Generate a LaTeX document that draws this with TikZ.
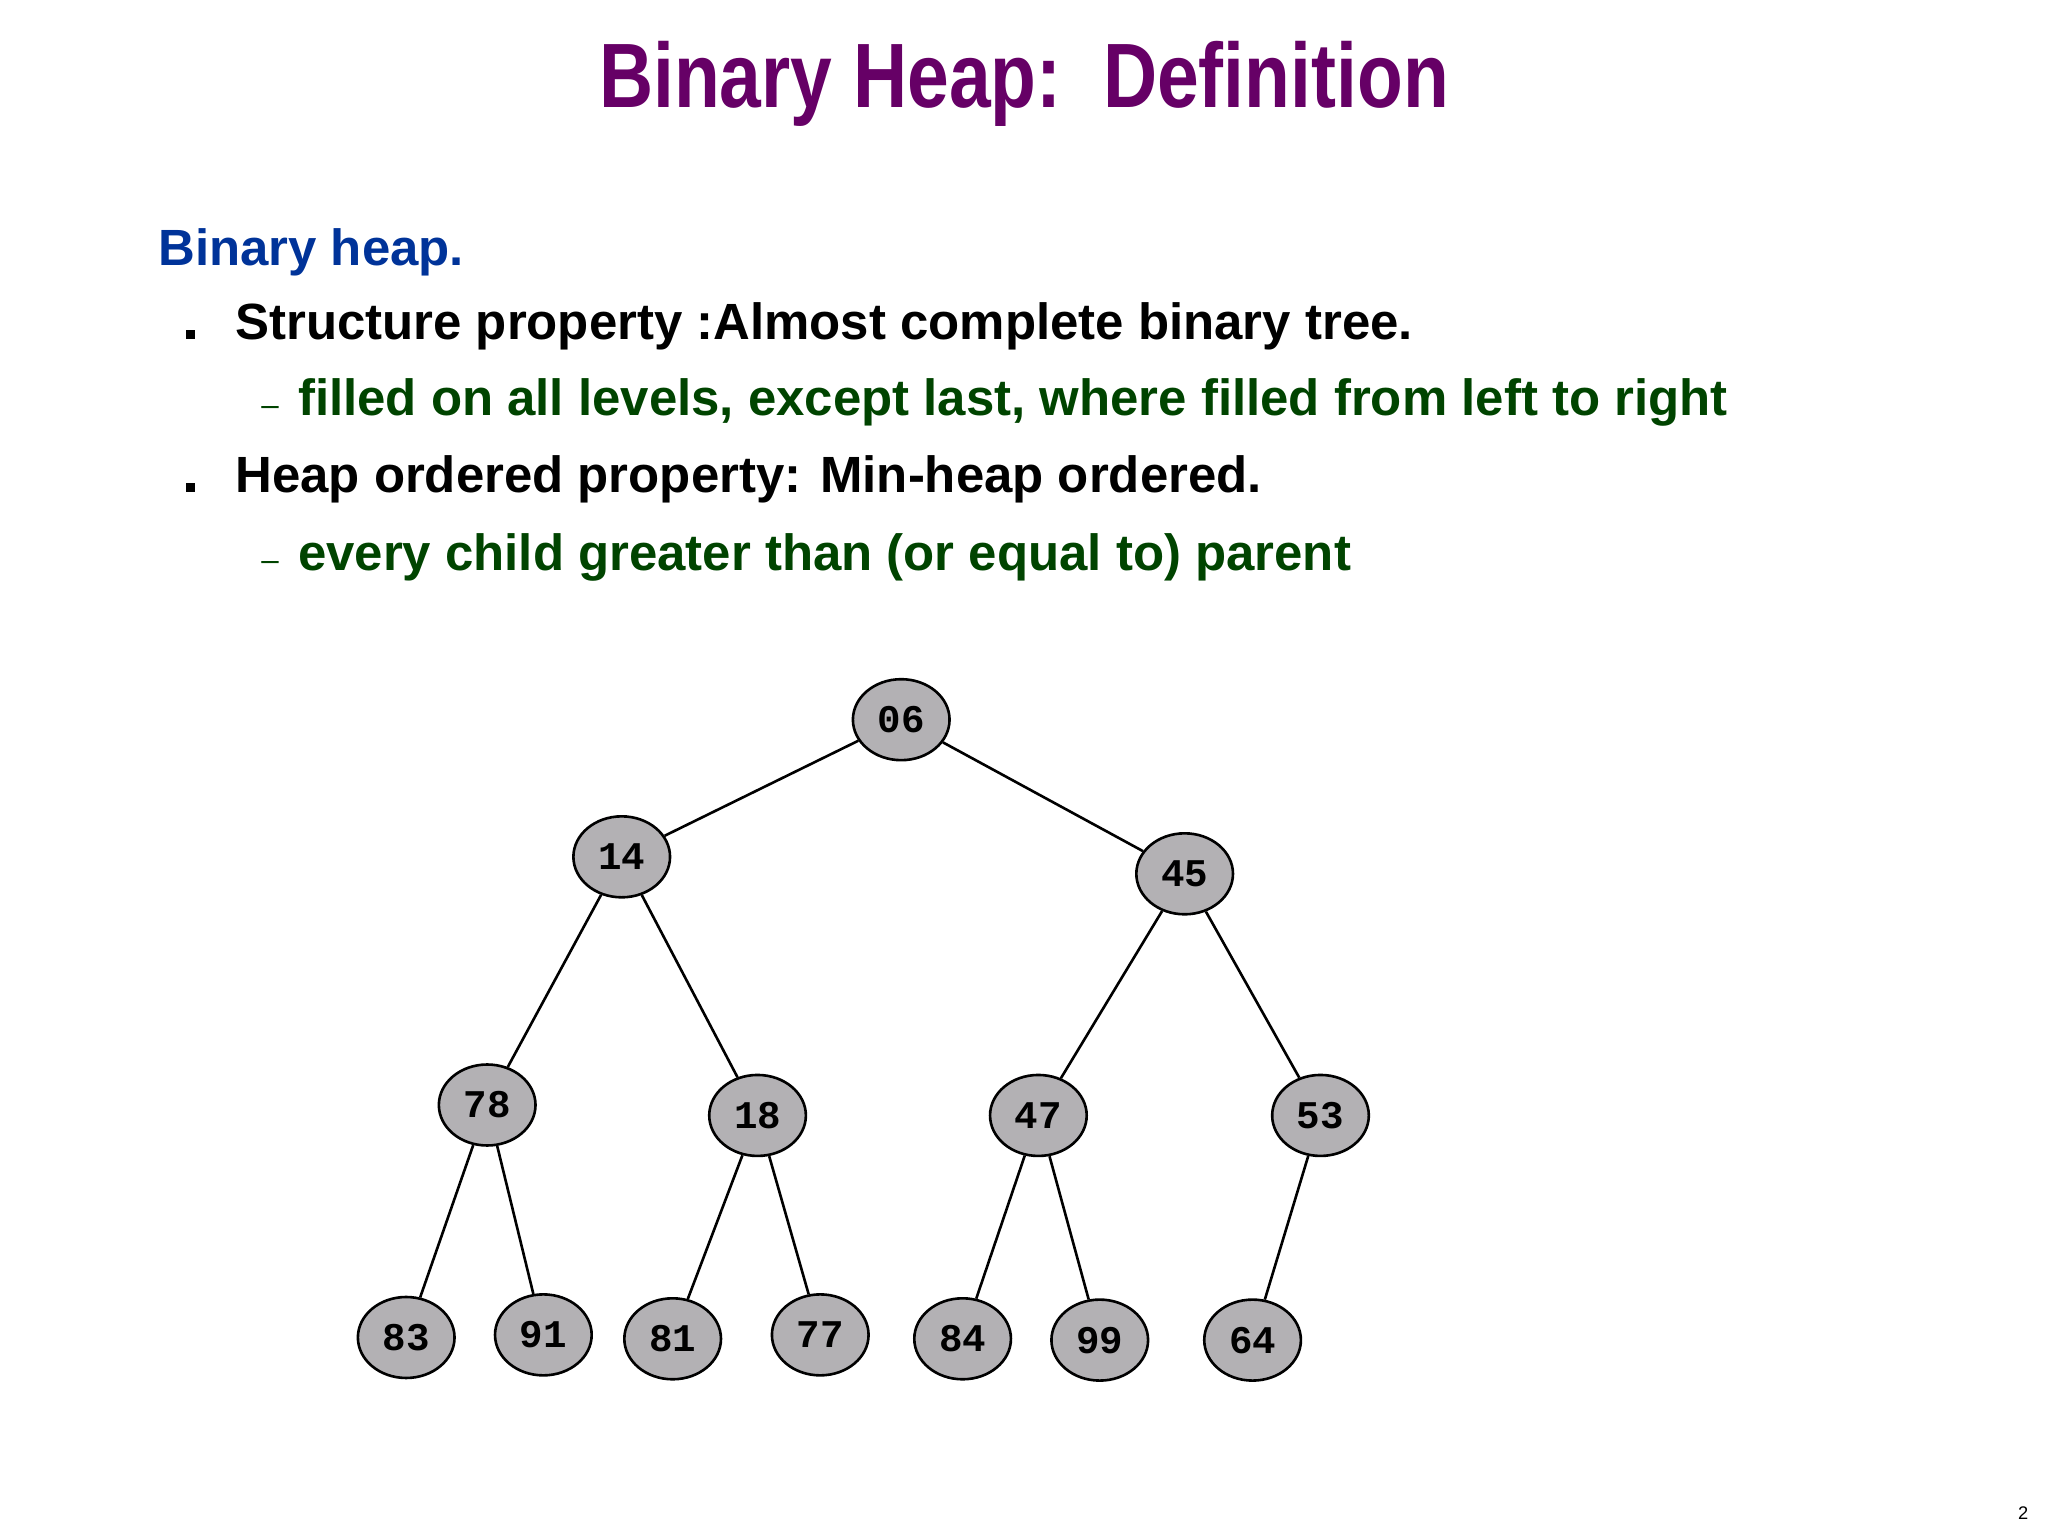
\documentclass[tikz,border=0pt]{standalone}
\usepackage{fontspec}
\setmainfont{Liberation Sans}
\setmonofont{Liberation Mono}
\usetikzlibrary{shapes.geometric}
\definecolor{ttl}{HTML}{660066}
\definecolor{blu}{HTML}{003399}
\definecolor{grn}{HTML}{004400}
\definecolor{nfill}{HTML}{B3B1B4}
\begin{document}
\begin{tikzpicture}[x=1pt,y=-1pt,
  hn/.style={ellipse,draw,line width=2pt,fill=nfill,minimum width=74pt,minimum height=62pt,inner sep=0pt,font=\fontsize{30}{30}\selectfont\ttfamily\bfseries},
  ed/.style={line width=2pt},
  txt/.style={anchor=base west,inner sep=0pt,font=\fontsize{39}{39}\selectfont\bfseries},
  dsh/.style={anchor=base west,inner sep=0pt,text=grn,font=\fontsize{24}{24}\selectfont}]
\useasboundingbox (0,0) rectangle (1568,1176);
\node[anchor=base,inner sep=0pt,text=ttl,xscale=0.82,font=\fontsize{70}{70}\selectfont\bfseries] (title) at (784,82) {Binary Heap:\ \ Definition};
\node[txt,text=blu] (h) at (121,203) {Binary heap.};
\node[anchor=center,fill=black,minimum size=7pt,inner sep=0pt] (b1) at (146,256) {};
\node[txt] (l1) at (180,260) {Structure property :Almost complete binary tree.};
\node[dsh] (d1) at (200,318) {–};
\node[txt,text=grn] (l2) at (228,318) {filled on all levels, except last, where filled from left to right};
\node[anchor=center,fill=black,minimum size=7pt,inner sep=0pt] (b2) at (146,373) {};
\node[txt] (l3) at (180,377) {Heap ordered property: Min-heap ordered.};
\node[dsh] (d2) at (200,437) {–};
\node[txt,text=grn] (l4) at (228,437) {every child greater than (or equal to) parent};
\node[anchor=base east,inner sep=0pt,font=\fontsize{14}{14}\selectfont] (pg) at (1553,1163) {2};
\node[hn] (n06) at (690,551) {06};
\node[hn] (n14) at (476,656) {14};
\node[hn] (n45) at (907,669) {45};
\node[hn] (n78) at (373,846) {78};
\node[hn] (n18) at (580,854) {18};
\node[hn] (n47) at (795,854) {47};
\node[hn] (n53) at (1011,854) {53};
\node[hn] (n83) at (311,1024) {83};
\node[hn] (n91) at (416,1022) {91};
\node[hn] (n81) at (515,1025) {81};
\node[hn] (n77) at (628,1022) {77};
\node[hn] (n84) at (737,1025) {84};
\node[hn] (n99) at (842,1026) {99};
\node[hn] (n64) at (959,1026) {64};
\foreach \a/\b in {06/14,06/45,14/78,14/18,45/47,45/53,78/83,78/91,18/81,18/77,47/84,47/99,53/64}
  \draw[ed] (n\a) -- (n\b);
\end{tikzpicture}
\end{document}
